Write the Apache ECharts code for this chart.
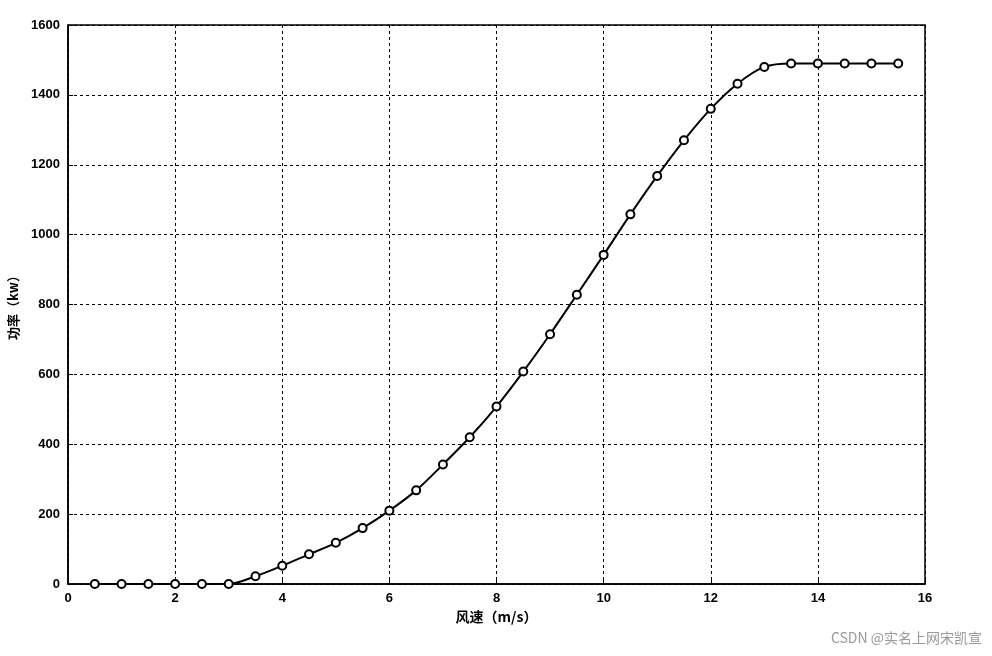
<!DOCTYPE html>
<html><head><meta charset="utf-8">
<script src="https://cdn.jsdelivr.net/npm/echarts@6/dist/echarts.min.js"></script>
<style>html,body{margin:0;padding:0;background:#fff}#c{width:992px;height:656px}</style>
</head><body><div id="c"></div>
<script>
const windSpeed=[0.5,1,1.5,2,2.5,3,3.5,4,4.5,5,5.5,6,6.5,7,7.5,8,8.5,9,9.5,10,10.5,11,11.5,12,12.5,13,13.5,14,14.5,15,15.5];
const power=[0,0,0,0,0,0,22,52,85,118,160,210,268,342,420,508,608,715,828,942,1058,1168,1270,1360,1432,1480,1490,1490,1490,1490,1490];
const xLabel='风速（m/s）', yLabel='功率（kw）', watermark='CSDN @实名上网宋凯宣';
const chart=echarts.init(document.getElementById('c'));
const ax={axisLine:{show:true,lineStyle:{color:'#000',width:1.5}},axisTick:{show:true,inside:true,lineStyle:{color:'#000'}},
 axisLabel:{color:'#000',fontSize:13,fontWeight:'bold',fontFamily:'Liberation Sans',formatter:v=>String(v)},
 splitLine:{show:true,lineStyle:{color:'#000',type:[3,3],width:1}}};
chart.setOption({
 animation:false,
 grid:{left:68,right:67,top:25,bottom:72,outerBoundsMode:'none',containLabel:false,show:true,borderColor:'#000',borderWidth:1.5},
 title:{text:watermark,right:5,bottom:6,textStyle:{color:'#999',fontSize:14,fontWeight:'normal',fontFamily:'Noto Sans CJK SC'}},
 xAxis:Object.assign({type:'value',min:0,max:16,interval:2,name:xLabel,nameLocation:'middle',nameGap:26,
  nameTextStyle:{color:'#000',fontSize:14,fontWeight:'bold',fontFamily:'Noto Sans CJK SC'}},ax),
 yAxis:Object.assign({type:'value',min:0,max:1600,interval:200,name:yLabel,nameLocation:'middle',nameGap:48,
  nameTextStyle:{color:'#000',fontSize:13,fontWeight:'bold',fontFamily:'Noto Sans CJK SC'}},ax),
 series:[{type:'line',smooth:0.3,clip:false,data:windSpeed.map((x,i)=>[x,power[i]]),symbol:'circle',symbolSize:8,showAllSymbol:true,
  lineStyle:{color:'#000',width:2},itemStyle:{color:'#fff',borderColor:'#000',borderWidth:2}}]
});
</script></body></html>
